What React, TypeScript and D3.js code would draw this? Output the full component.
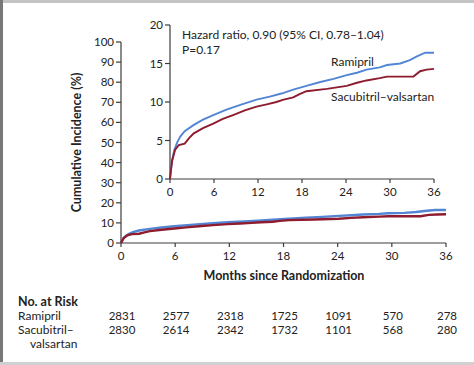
import * as d3 from 'd3';

// months and cumulative incidence (%)
const ramiMonths = [0, 0.15, 0.3, 0.6, 1.0, 1.4, 2.0, 3.2, 4.5, 5.9, 7.7, 9.8, 11.8, 13.6, 15.2, 16.8, 18.6, 20.5, 22.3, 24.1, 25.5, 26.8, 28.6, 29.6, 31.4, 32.7, 33.6, 34.8, 36];
const ramiValues = [0, 1.4, 2.5, 3.8, 4.8, 5.5, 6.2, 7.0, 7.7, 8.3, 9.0, 9.7, 10.3, 10.7, 11.1, 11.6, 12.1, 12.6, 13.0, 13.5, 13.8, 14.2, 14.5, 14.8, 15.0, 15.45, 15.9, 16.4, 16.4];
const sacuMonths = [0, 0.15, 0.3, 0.7, 1.2, 2.0, 2.6, 3.2, 4.5, 5.9, 7.2, 8.6, 10.2, 11.8, 13.2, 14.5, 15.5, 16.8, 17.6, 18.6, 21.4, 24.1, 25.5, 26.8, 28.6, 29.6, 33.2, 34.1, 35.0, 36];
const sacuValues = [0, 1.3, 2.4, 3.8, 4.4, 4.6, 5.3, 5.9, 6.6, 7.2, 7.8, 8.3, 8.9, 9.4, 9.7, 10.0, 10.3, 10.6, 11.0, 11.4, 11.7, 12.1, 12.5, 12.8, 13.1, 13.3, 13.3, 14.0, 14.2, 14.3];

const monthTicks = [0, 6, 12, 18, 24, 30, 36];
const mainYTicks = [0, 10, 20, 30, 40, 50, 60, 70, 80, 90, 100];
const insetYTicks = [0, 5, 10, 15, 20];

const riskGroups = ['Ramipril', 'Sacubitril–valsartan'];
const riskRamipril = [2831, 2577, 2318, 1725, 1091, 570, 278];
const riskSacubitril = [2830, 2614, 2342, 1732, 1101, 568, 280];

const BLUE = '#5285d4';
const RED = '#8e1b2e';
const AXIS = '#3c3c3c';
const FONT = 'Lato, "Liberation Sans", sans-serif';

type Pt = { t: number; v: number };
const rami: Pt[] = ramiMonths.map((t, i) => ({ t, v: ramiValues[i] }));
const sacu: Pt[] = sacuMonths.map((t, i) => ({ t, v: sacuValues[i] }));

const App = () => {
  const width = 474;
  const height = 365;

  // main panel
  const x = d3.scaleLinear().domain([0, 36]).range([121, 446]);
  const y = d3.scaleLinear().domain([0, 100]).range([243, 42]);
  // inset panel
  const xi = d3.scaleLinear().domain([0, 36]).range([170, 434]);
  const yi = d3.scaleLinear().domain([0, 20]).range([179, 25]);

  const mainLine = d3.line<Pt>().x(d => x(d.t)).y(d => y(d.v));
  const insetLine = d3.line<Pt>().x(d => xi(d.t)).y(d => yi(d.v));

  const tickLen = 5;

  return (
    <svg
      width={width}
      height={height}
      style={{ position: 'absolute', left: 0, top: 0, background: '#fff' }}
      fontFamily={FONT}
    >
      {/* frame bits of the scan */}
      <rect x={0} y={0} width={width} height={3} fill="#c4c4c4" />
      <rect x={0} y={0} width={3} height={height} fill="#777" />
      <rect x={0} y={height - 3} width={width} height={3} fill="#d0d0d0" />

      {/* main y axis */}
      <line x1={x(0)} x2={x(0)} y1={y(0)} y2={y(100)} stroke={AXIS} strokeWidth={1.2} />
      {mainYTicks.map(t => (
        <g key={'my' + t}>
          <line x1={x(0) - tickLen} x2={x(0)} y1={y(t)} y2={y(t)} stroke={AXIS} strokeWidth={1.2} />
          <text x={x(0) - tickLen - 2} y={y(t)} dy="0.35em" textAnchor="end" fontSize={11.5} fill="#222">{t}</text>
        </g>
      ))}
      {/* main x axis */}
      <line x1={x(0)} x2={x(36)} y1={y(0)} y2={y(0)} stroke={AXIS} strokeWidth={1.2} />
      {monthTicks.map(t => (
        <g key={'mx' + t}>
          <line x1={x(t)} x2={x(t)} y1={y(0)} y2={y(0) + 4} stroke={AXIS} strokeWidth={1.2} />
          <text x={x(t)} y={y(0) + 17} textAnchor="middle" fontSize={11.5} fill="#222">{t}</text>
        </g>
      ))}

      <path d={mainLine(rami) ?? ''} fill="none" stroke={BLUE} strokeWidth={2.4} />
      <path d={mainLine(sacu) ?? ''} fill="none" stroke={RED} strokeWidth={2.4} />

      <text x={284} y={280} textAnchor="middle" fontSize={12.5} fontWeight="bold" fill="#222">Months since Randomization</text>
      <text transform={`translate(81,${y(50)}) rotate(-90)`} textAnchor="middle" fontSize={12.5} fontWeight="bold" fill="#222">
        Cumulative Incidence (%)
      </text>

      {/* inset */}
      <line x1={xi(0)} x2={xi(0)} y1={yi(0)} y2={yi(20)} stroke={AXIS} strokeWidth={1.2} />
      {insetYTicks.map(t => (
        <g key={'iy' + t}>
          <line x1={xi(0) - tickLen} x2={xi(0)} y1={yi(t)} y2={yi(t)} stroke={AXIS} strokeWidth={1.2} />
          <text x={xi(0) - tickLen - 2} y={yi(t)} dy="0.35em" textAnchor="end" fontSize={11.5} fill="#222">{t}</text>
        </g>
      ))}
      <line x1={xi(0)} x2={xi(36)} y1={yi(0)} y2={yi(0)} stroke={AXIS} strokeWidth={1.2} />
      {monthTicks.map(t => (
        <g key={'ix' + t}>
          <line x1={xi(t)} x2={xi(t)} y1={yi(0)} y2={yi(0) + 4} stroke={AXIS} strokeWidth={1.2} />
          <text x={xi(t)} y={yi(0) + 17} textAnchor="middle" fontSize={11.5} fill="#222">{t}</text>
        </g>
      ))}
      <path d={insetLine(rami) ?? ''} fill="none" stroke={BLUE} strokeWidth={1.9} />
      <path d={insetLine(sacu) ?? ''} fill="none" stroke={RED} strokeWidth={1.9} />

      <text x={182} y={39} fontSize={12} fill="#222">Hazard ratio, 0.90 (95% CI, 0.78–1.04)</text>
      <text x={182} y={54} fontSize={12} fill="#222">P=0.17</text>
      <text x={331} y={66} fontSize={12} fill="#222">Ramipril</text>
      <text x={331} y={101} fontSize={12} fill="#222">Sacubitril–valsartan</text>

      {/* numbers at risk */}
      <text x={18} y={306} fontSize={12.5} fontWeight="bold" fill="#222">No. at Risk</text>
      <text x={18} y={320} fontSize={12} fill="#222">{riskGroups[0]}</text>
      <text x={18} y={334} fontSize={12} fill="#222">Sacubitril–</text>
      <text x={30} y={348} fontSize={12} fill="#222">valsartan</text>
      {monthTicks.map((t, i) => (
        <g key={'r' + t}>
          <text x={x(t) + 1} y={320} textAnchor="middle" fontSize={11.5} fill="#222">{riskRamipril[i]}</text>
          <text x={x(t) + 1} y={334} textAnchor="middle" fontSize={11.5} fill="#222">{riskSacubitril[i]}</text>
        </g>
      ))}
    </svg>
  );
};

export default App;
